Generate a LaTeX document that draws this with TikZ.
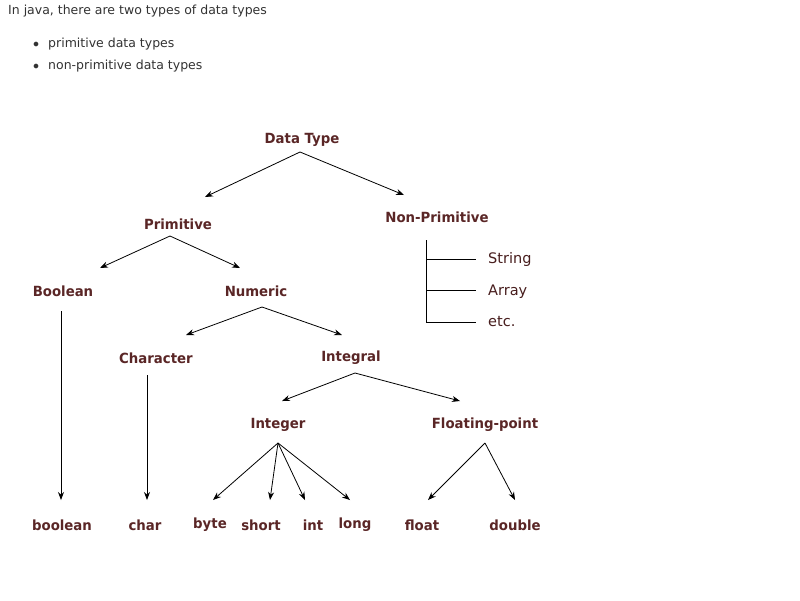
\documentclass[tikz,border=0pt]{standalone}
\usepackage{fontspec}
\setmainfont{DejaVu Sans}
\usetikzlibrary{arrows.meta}
\definecolor{brn}{HTML}{5A2626}
\begin{document}
\begin{tikzpicture}[x=1pt,y=-1pt,
  lbl/.style={font=\fontsize{14}{16}\selectfont\bfseries\addfontfeatures{FakeStretch=0.95},text=brn,inner sep=0pt},
  sub/.style={font=\fontsize{14.5}{16}\selectfont,text=brn!80!black,inner sep=0pt,anchor=west},
  intro/.style={anchor=west,font=\fontsize{12.5}{14}\selectfont,inner sep=0pt,text=black!80},
  arr/.style={-{Stealth[length=8pt,width=6pt]},black,line width=0.8pt},
  ln/.style={black,line width=0.8pt}]
\useasboundingbox[fill=white] (0,0) rectangle (800,600);
\node[intro] (intro) at (8,11) {In java, there are two types of data types};
\node[intro] (b1) at (33,44) {$\bullet$\hspace{9pt}primitive data types};
\node[intro] (b2) at (33,66) {$\bullet$\hspace{9pt}non-primitive data types};
\node[lbl] (dt) at (302,140) {Data Type};
\node[lbl] (prim) at (178,224) {Primitive};
\node[lbl] (np) at (437,217) {Non-Primitive};
\node[lbl] (bool) at (63,291) {Boolean};
\node[lbl] (num) at (256,291) {Numeric};
\node[lbl] (chr) at (156,358) {Character};
\node[lbl] (intg) at (351,358) {Integral};
\node[lbl] (inte) at (278,425) {Integer};
\node[lbl] (fp) at (485,425) {Floating-point};
\foreach \n/\t/\x in {tb/boolean/62, tc/char/145, tby/byte/210, ts/short/261, ti/int/313, tl/long/355, tf/float/422, td/double/515}
  \node[lbl] (\n) at (\x,525) {\t};
\node[sub] (str) at (488,259) {String};
\node[sub] (arrn) at (488,292) {Array};
\node[sub] (etc) at (488,322) {etc.};
\coordinate (a1) at (300,152);
\coordinate (a2) at (170,236);
\coordinate (a3) at (262,307);
\coordinate (a4) at (355,373);
\coordinate (a5) at (278,443);
\coordinate (a6) at (485,443);
\draw[arr] (a1) -- (205,197);
\draw[arr] (a1) -- (404,195);
\draw[arr] (a2) -- (100,268);
\draw[arr] (a2) -- (240,268);
\draw[arr] (a3) -- (186,335);
\draw[arr] (a3) -- (342,335);
\draw[arr] (a4) -- (282,401);
\draw[arr] (a4) -- (460,401);
\draw[arr] (a5) -- (213,500);
\draw[arr] (a5) -- (270,500);
\draw[arr] (a5) -- (305,500);
\draw[arr] (a5) -- (350,500);
\draw[arr] (a6) -- (428,500);
\draw[arr] (a6) -- (515,500);
\draw[arr] (61,311) -- (61,500);
\draw[arr] (147,375) -- (147,500);
\draw[ln] (426,240) -- (426,322) -- (476,322);
\draw[ln] (426,259) -- (476,259);
\draw[ln] (426,290) -- (476,290);
\end{tikzpicture}
\end{document}
